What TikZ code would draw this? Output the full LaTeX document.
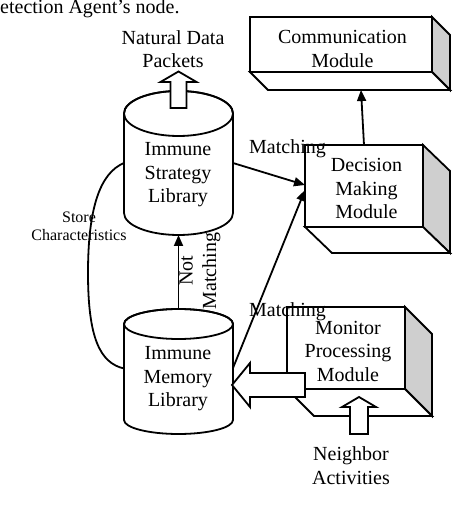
\documentclass[tikz,border=0pt]{standalone}
\usepackage{fontspec}
\setmainfont{Liberation Serif}
\usetikzlibrary{arrows.meta}
\begin{document}
\begin{tikzpicture}[x=1pt,y=1pt,
  lw/.style={line width=1.8pt},
  face/.style={draw,lw,fill=white,line join=miter},
  side/.style={draw,lw,fill=gray!38,line join=miter},
  conn/.style={lw,-{Triangle[length=11pt,width=9pt]}},
  blk/.style={draw,lw,fill=white,line join=miter},
  txt/.style={font=\fontsize{20pt}{23.5pt}\selectfont,align=center,inner sep=0pt},
  small/.style={font=\fontsize{16pt}{18pt}\selectfont,align=center,inner sep=0pt},
  hold/.style={inner sep=0pt,outer sep=0pt,draw=none}]
\useasboundingbox (0,0) rectangle (474,508);
\fill[white] (0,0) rectangle (474,508);

% title fragment
\node[txt,anchor=base west] (title) at (0,494) {etection Agent’s node.};

% Communication Module box
\node[hold,minimum width=182pt,minimum height=55pt] (comm) at (341,463.5) {};
\draw[side] (comm.north east) -- ++(18,-18) -- ++(0,-55) -- (comm.south east) -- cycle;
\draw[face] (comm.south west) -- ++(18,-18) -- ++(182,0) -- (comm.south east) -- cycle;
\draw[face] (comm.south west) rectangle (comm.north east);
\node[txt] (commT) at (342.5,459) {Communication\\Module};

% Decision Making Module box
\node[hold,minimum width=118pt,minimum height=82pt] (dec) at (364,322) {};
\draw[side] (dec.north east) -- ++(27,-26) -- ++(0,-82) -- (dec.south east) -- cycle;
\draw[face] (dec.south west) -- ++(27,-26) -- ++(118,0) -- (dec.south east) -- cycle;
\draw[face] (dec.south west) rectangle (dec.north east);
\node[txt] (decT) at (366.5,319.5) {Decision\\Making\\Module};

% Monitor Processing Module box
\node[hold,minimum width=118pt,minimum height=82pt] (mon) at (346,160) {};
\draw[side] (mon.north east) -- ++(27,-27) -- ++(0,-82) -- (mon.south east) -- cycle;
\draw[face] (mon.south west) -- ++(27,-27) -- ++(118,0) -- (mon.south east) -- cycle;
\draw[face] (mon.south west) rectangle (mon.north east);
\node[txt] (monT) at (348,157) {Monitor\\Processing\\Module};

% Immune Strategy Library cylinder
\node[hold,minimum width=109pt,minimum height=144pt] (strat) at (178.5,345) {};
\draw[face] (124,394.5) -- (124,295)
  arc[start angle=180,end angle=360,x radius=54.5pt,y radius=22pt]
  -- (233,394.5)
  arc[start angle=0,end angle=180,x radius=54.5pt,y radius=22.5pt] -- cycle;
\draw[lw] (178.5,394.5) ellipse[x radius=54.5pt,y radius=22.5pt];
\node[txt] (stratT) at (178,333) {Immune\\Strategy\\Library};

% Immune Memory Library cylinder
\node[hold,minimum width=109pt,minimum height=125pt] (mem) at (178.5,136.5) {};
\draw[face] (124,184) -- (124,88)
  arc[start angle=180,end angle=360,x radius=54.5pt,y radius=14pt]
  -- (233,184)
  arc[start angle=0,end angle=180,x radius=54.5pt,y radius=15pt] -- cycle;
\draw[lw] (178.5,184) ellipse[x radius=54.5pt,y radius=15pt];
\node[txt] (memT) at (178,129) {Immune\\Memory\\Library};

% connectors
\draw[conn] (strat.east) -- ([yshift=1pt]dec.west);
\draw[conn] ([yshift=3.5pt]mem.east) -- ([yshift=-4pt]dec.west);
\draw[conn] (dec.north) -- ([shift={(20pt,-18pt)}]comm.south);
\draw[conn] (mem.north) -- (strat.south);
\draw[lw] (strat.west) .. controls (100,335) and (88,300) .. (88,235)
  .. controls (88,170) and (100,145) .. ([yshift=3pt]mem.west);

% block arrows
\draw[blk] (170.5,400) -- (170.5,426) -- (160.5,426) -- (178.5,436.5)
  -- (196.5,426) -- (186.5,426) -- (186.5,400) -- cycle;
\draw[blk] (305,135) -- (250,135) -- (250,145) -- (232,123) -- (250,101)
  -- (250,111) -- (305,111) -- cycle;
\draw[blk] (350,74) -- (350,101) -- (342,101) -- (359,111) -- (376,101)
  -- (368,101) -- (368,74) -- cycle;

% labels
\node[txt] (natT) at (173,459) {Natural Data\\Packets};
\node[txt] (neiT) at (351,42.5) {Neighbor\\Activities};
\node[txt,anchor=base west] (m1) at (249,354.5) {Matching};
\node[txt,anchor=base west] (m2) at (249,191.5) {Matching};
\node[txt,rotate=90] (nm) at (200,237) {Not\\Matching};
\node[small] (store) at (79,282) {Store\\Characteristics};
\end{tikzpicture}
\end{document}
